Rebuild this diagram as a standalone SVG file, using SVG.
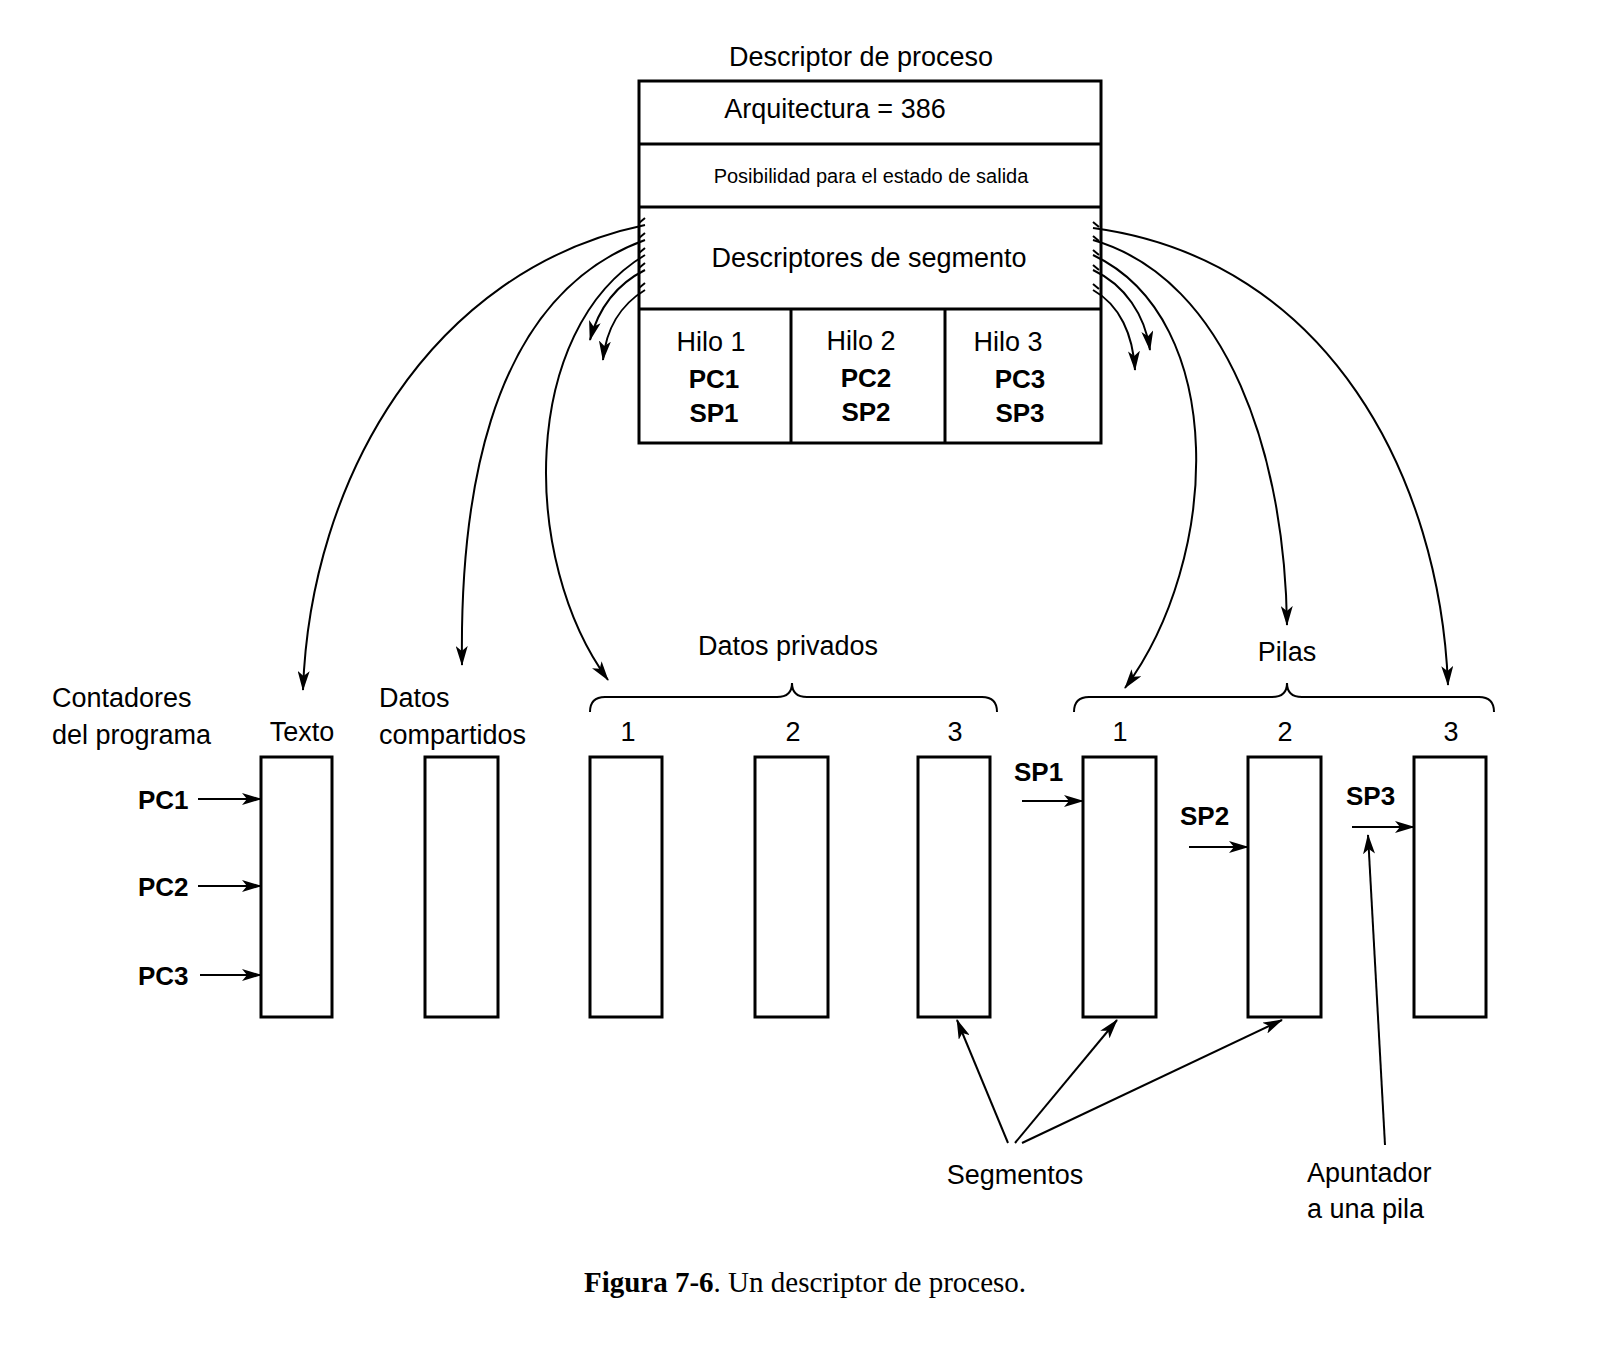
<svg xmlns="http://www.w3.org/2000/svg" width="1600" height="1346" viewBox="0 0 1600 1346">
<defs>
<marker id="b" viewBox="0 0 20 12" refX="19" refY="6" markerWidth="20" markerHeight="12" markerUnits="userSpaceOnUse" orient="auto"><path d="M0,0 L20,6 L0,12 L5,6 Z" fill="#000"/></marker>
</defs>
<style>
text{font-family:"Liberation Sans",Arial,sans-serif;fill:#000}
.t{font-size:27px}
.s{font-size:20px}
.b{font-size:26px;font-weight:bold}
.n{fill:#fff;stroke:#000;stroke-width:3}
.c{fill:none;stroke:#000;stroke-width:2}
.l{fill:none;stroke:#000;stroke-width:2}
</style>
<rect width="1600" height="1346" fill="#fff"/>
<g id="descriptor">
<text class="t" x="861" y="66" text-anchor="middle">Descriptor de proceso</text>
<rect class="n" x="639" y="81" width="462" height="362"/>
<line class="l" x1="639" y1="144" x2="1101" y2="144" style="stroke-width:3"/>
<line class="l" x1="639" y1="207" x2="1101" y2="207" style="stroke-width:3"/>
<line class="l" x1="639" y1="309" x2="1101" y2="309" style="stroke-width:3"/>
<line class="l" x1="791" y1="309" x2="791" y2="443" style="stroke-width:3"/>
<line class="l" x1="945" y1="309" x2="945" y2="443" style="stroke-width:3"/>
<text class="t" x="835" y="118" text-anchor="middle">Arquitectura = 386</text>
<text class="s" x="871" y="183" text-anchor="middle">Posibilidad para el estado de salida</text>
<text class="t" x="869" y="267" text-anchor="middle">Descriptores de segmento</text>
<text class="t" x="711" y="351" text-anchor="middle">Hilo 1</text>
<text class="b" x="714" y="388" text-anchor="middle">PC1</text>
<text class="b" x="714" y="422" text-anchor="middle">SP1</text>
<text class="t" x="861" y="350" text-anchor="middle">Hilo 2</text>
<text class="b" x="866" y="387" text-anchor="middle">PC2</text>
<text class="b" x="866" y="421" text-anchor="middle">SP2</text>
<text class="t" x="1008" y="351" text-anchor="middle">Hilo 3</text>
<text class="b" x="1020" y="388" text-anchor="middle">PC3</text>
<text class="b" x="1020" y="422" text-anchor="middle">SP3</text>
</g>
<g id="segments">
<rect class="n" x="261" y="757" width="71" height="260"/>
<rect class="n" x="425" y="757" width="73" height="260"/>
<rect class="n" x="590" y="757" width="72" height="260"/>
<rect class="n" x="755" y="757" width="73" height="260"/>
<rect class="n" x="918" y="757" width="72" height="260"/>
<rect class="n" x="1083" y="757" width="73" height="260"/>
<rect class="n" x="1248" y="757" width="73" height="260"/>
<rect class="n" x="1414" y="757" width="72" height="260"/>
<text class="t" x="52" y="707">Contadores</text>
<text class="t" x="52" y="744">del programa</text>
<text class="t" x="302" y="741" text-anchor="middle">Texto</text>
<text class="t" x="379" y="707">Datos</text>
<text class="t" x="379" y="744">compartidos</text>
<text class="t" x="788" y="655" text-anchor="middle">Datos privados</text>
<text class="t" x="1287" y="661" text-anchor="middle">Pilas</text>
<text class="t" x="628" y="741" text-anchor="middle">1</text>
<text class="t" x="793" y="741" text-anchor="middle">2</text>
<text class="t" x="955" y="741" text-anchor="middle">3</text>
<text class="t" x="1120" y="741" text-anchor="middle">1</text>
<text class="t" x="1285" y="741" text-anchor="middle">2</text>
<text class="t" x="1451" y="741" text-anchor="middle">3</text>
<path class="l" d="M590,712 Q590,697 605,697 L777,697 Q792,697 792,683 Q792,697 807,697 L982,697 Q997,697 997,712"/>
<path class="l" d="M1074,712 Q1074,697 1089,697 L1272,697 Q1287,697 1287,683 Q1287,697 1302,697 L1479,697 Q1494,697 1494,712"/>
<text class="b" x="138" y="809">PC1</text>
<text class="b" x="138" y="896">PC2</text>
<text class="b" x="138" y="985">PC3</text>
<text class="b" x="1014" y="781">SP1</text>
<text class="b" x="1180" y="825">SP2</text>
<text class="b" x="1346" y="805">SP3</text>
<text class="t" x="1015" y="1184" text-anchor="middle">Segmentos</text>
<text class="t" x="1307" y="1182">Apuntador</text>
<text class="t" x="1307" y="1218">a una pila</text>
<text x="805" y="1292" text-anchor="middle" style="font-family:'Liberation Serif',serif;font-size:29px"><tspan font-weight="bold">Figura 7-6</tspan>. Un descriptor de proceso.</text>
</g>
<g id="connectors">
<path class="l" d="M645,218 l-6,5 M645,233 l-6,5 M645,248 l-6,5 M645,263 l-6,5 M645,283 l-6,5"/>
<path class="l" d="M1093,222 l6,5 M1093,236 l6,5 M1093,250 l6,5 M1093,265 l6,5 M1093,284 l6,5"/>
<path class="c" marker-end="url(#b)" d="M645,225 C430,270 310,480 303,690"/>
<path class="c" marker-end="url(#b)" d="M645,240 C480,300 460,520 462,665"/>
<path class="c" marker-end="url(#b)" d="M645,255 C520,330 520,560 608,680"/>
<path class="c" marker-end="url(#b)" d="M645,270 C615,285 598,310 590,340"/>
<path class="c" marker-end="url(#b)" d="M645,290 C620,305 606,330 603,360"/>
<path class="c" marker-end="url(#b)" d="M1093,228 C1330,260 1440,480 1448,685"/>
<path class="c" marker-end="url(#b)" d="M1093,240 C1230,280 1285,460 1287,625"/>
<path class="c" marker-end="url(#b)" d="M1093,255 C1230,320 1220,560 1125,688"/>
<path class="c" marker-end="url(#b)" d="M1093,270 C1125,285 1145,315 1150,350"/>
<path class="c" marker-end="url(#b)" d="M1093,290 C1120,305 1133,335 1135,370"/>
<line class="l" marker-end="url(#b)" x1="198" y1="799" x2="261" y2="799"/>
<line class="l" marker-end="url(#b)" x1="198" y1="886" x2="261" y2="886"/>
<line class="l" marker-end="url(#b)" x1="200" y1="975" x2="261" y2="975"/>
<line class="l" marker-end="url(#b)" x1="1022" y1="801" x2="1083" y2="801"/>
<line class="l" marker-end="url(#b)" x1="1189" y1="847" x2="1248" y2="847"/>
<line class="l" marker-end="url(#b)" x1="1352" y1="827" x2="1414" y2="827"/>
<line class="l" marker-end="url(#b)" x1="1008" y1="1143" x2="957" y2="1020"/>
<line class="l" marker-end="url(#b)" x1="1015" y1="1143" x2="1117" y2="1020"/>
<line class="l" marker-end="url(#b)" x1="1022" y1="1143" x2="1282" y2="1020"/>
<line class="l" marker-end="url(#b)" x1="1385" y1="1145" x2="1368" y2="835"/>
</g>
</svg>
